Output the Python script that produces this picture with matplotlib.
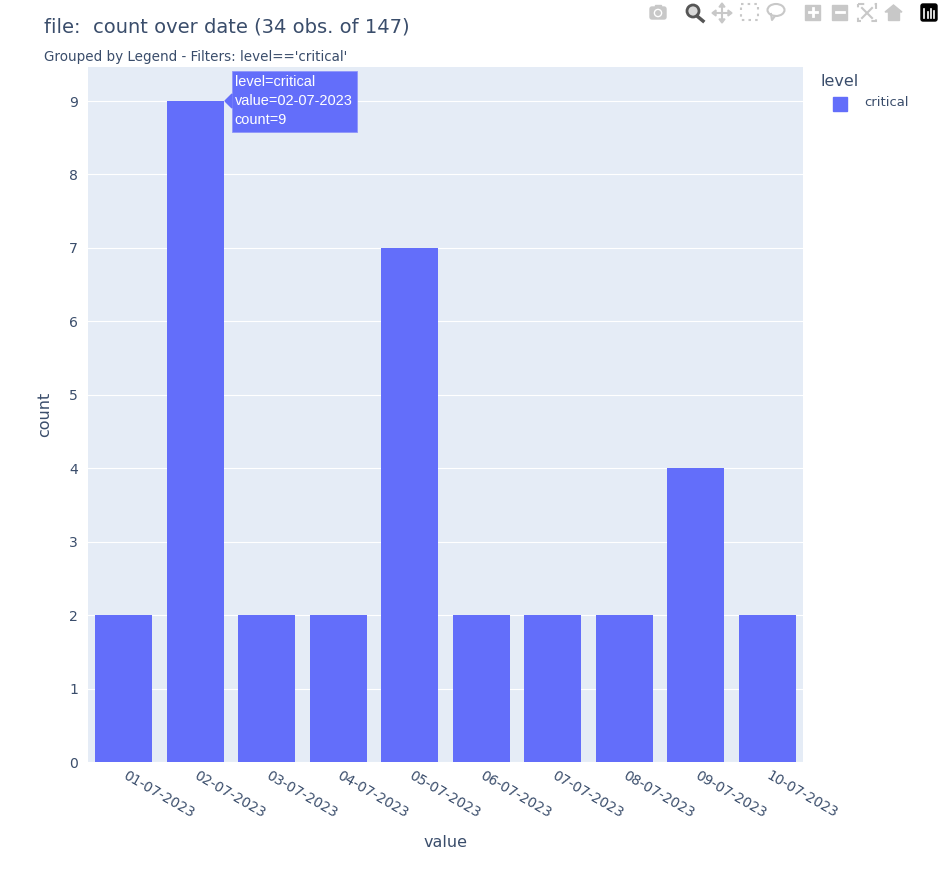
import matplotlib
matplotlib.use('Agg')
from matplotlib import pyplot as plt
from matplotlib.patches import Rectangle, Polygon, Circle, Ellipse, FancyBboxPatch

dates = ['01-07-2023', '02-07-2023', '03-07-2023', '04-07-2023', '05-07-2023',
         '06-07-2023', '07-07-2023', '08-07-2023', '09-07-2023', '10-07-2023']
counts = [2, 9, 2, 2, 7, 2, 2, 2, 4, 2]
yticks = [0, 1, 2, 3, 4, 5, 6, 7, 8, 9]
hover_lines = ['level=critical', 'value=02-07-2023', 'count=9']

W, H = 940, 871
BAR = '#636efa'
INK = '#3a4d6b'
ICON = '#c8c8c8'
plt.rcParams['font.family'] = ['DejaVu Sans']


def px(size):
    return size * 72 / 100.


fig = plt.figure(figsize=(W / 100., H / 100.), dpi=100)
# plot area 88..803 x 67..762 in pixels
ax = fig.add_axes([88. / W, 1 - 762. / H, 715. / W, 695. / H])
ax.set_facecolor('#e5ecf6')
ax.bar(range(len(dates)), counts, width=0.8, color=BAR, zorder=3)
ax.set_xlim(-0.5, 9.5)
ax.set_ylim(0, 9.463)
ax.set_yticks(yticks)
ax.grid(axis='y', color='white', lw=0.8, zorder=1)
ax.set_axisbelow(True)
for s in ax.spines.values():
    s.set_visible(False)
ax.tick_params(axis='y', length=0, pad=7, labelsize=px(14), labelcolor=INK)
ax.set_xticks(range(len(dates)))
ax.set_xticklabels(dates, rotation=-30, rotation_mode='anchor', ha='left', va='center')
ax.tick_params(axis='x', length=0, pad=9, labelsize=px(13.8), labelcolor=INK)

# overlay in pixel coordinates for titles, legend, hover box, toolbar
ov = fig.add_axes([0, 0, 1, 1], facecolor='none')
ov.set_xlim(0, W)
ov.set_ylim(H, 0)
ov.axis('off')

ov.text(44, 27, 'file:  count over date (34 obs. of 147)', fontsize=px(19.5), color=INK, va='center')
ov.text(44, 57, "Grouped by Legend - Filters: level=='critical'", fontsize=px(13.5), color=INK, va='center')
ov.text(45, 414, 'count', fontsize=px(16), color=INK, rotation=90, ha='center', va='center')
ov.text(446, 842, 'value', fontsize=px(16), color=INK, ha='center', va='center')

ov.text(820, 81, 'level', fontsize=px(16), color=INK, va='center')
ov.add_patch(Rectangle((833, 97), 14, 14, color=BAR))
ov.text(864, 103, 'critical', fontsize=px(13.1), color=INK, va='center')

# hover label
ov.add_patch(Rectangle((232, 71), 125, 61, facecolor=BAR, edgecolor='#8f96fb', lw=0.6, zorder=5))
ov.add_patch(Polygon([(225, 101), (232, 94), (232, 108)], color=BAR, zorder=5))
for y, line in zip([82, 101, 120], hover_lines):
    ov.text(234.5, y, line, fontsize=px(14.5), color='white', va='center', family='Liberation Sans', zorder=6)

# modebar icons, rough shapes
ov.add_patch(FancyBboxPatch((650, 7), 16, 12, boxstyle='round,pad=0,rounding_size=2', color=ICON))
ov.add_patch(Rectangle((655, 5), 6, 3, color=ICON))
ov.add_patch(Circle((658, 13), 3.6, color='white'))
ov.add_patch(Circle((658, 13), 2.2, color=ICON))

ov.add_patch(Circle((693, 11), 6, facecolor='#d8d8d8', edgecolor='#555555', lw=2))
ov.plot([697, 703], [16, 21], color='#555555', lw=2.5)

# pan arrows
ov.plot([714, 730], [13, 13], color=ICON, lw=1.5)
ov.plot([722, 722], [5, 21], color=ICON, lw=1.5)
for tri in [[(712, 13), (716, 10), (716, 16)], [(732, 13), (728, 10), (728, 16)],
            [(722, 3), (719, 7), (725, 7)], [(722, 23), (719, 19), (725, 19)]]:
    ov.add_patch(Polygon(tri, color=ICON))

ov.add_patch(Rectangle((741, 4), 17, 16, fill=False, edgecolor=ICON, lw=1.5, ls=(0, (1.2, 2))))
ov.add_patch(Ellipse((776, 10), 17, 12, fill=False, edgecolor=ICON, lw=1.5))
ov.plot([771, 772, 775], [14, 20, 16], color=ICON, lw=1.5)

for x0 in [805, 832]:
    ov.add_patch(Rectangle((x0, 5), 15, 15, color=ICON))
    ov.plot([x0 + 3.5, x0 + 11.5], [12.5, 12.5], color='white', lw=2)
ov.plot([812.5, 812.5], [8.5, 16.5], color='white', lw=2)

ov.add_patch(Rectangle((858, 4), 18, 17, fill=False, edgecolor=ICON, lw=1.5, ls=(0, (3, 5))))
ov.plot([862, 872], [8, 18], color=ICON, lw=1.5)
ov.plot([862, 872], [18, 8], color=ICON, lw=1.5)

ov.add_patch(Polygon([(885, 12), (893.5, 5), (902, 12)], color=ICON))
ov.add_patch(Rectangle((888, 12), 11, 8, color=ICON))

ov.add_patch(FancyBboxPatch((921, 4), 16, 17, boxstyle='round,pad=0,rounding_size=2', color='black'))
for x0, h in zip([924, 927.5, 931, 934], [9, 6, 9, 7]):
    ov.plot([x0, x0], [18, 18 - h], color='white', lw=1.2)

fig.savefig('out.png', dpi=100, facecolor='white')
